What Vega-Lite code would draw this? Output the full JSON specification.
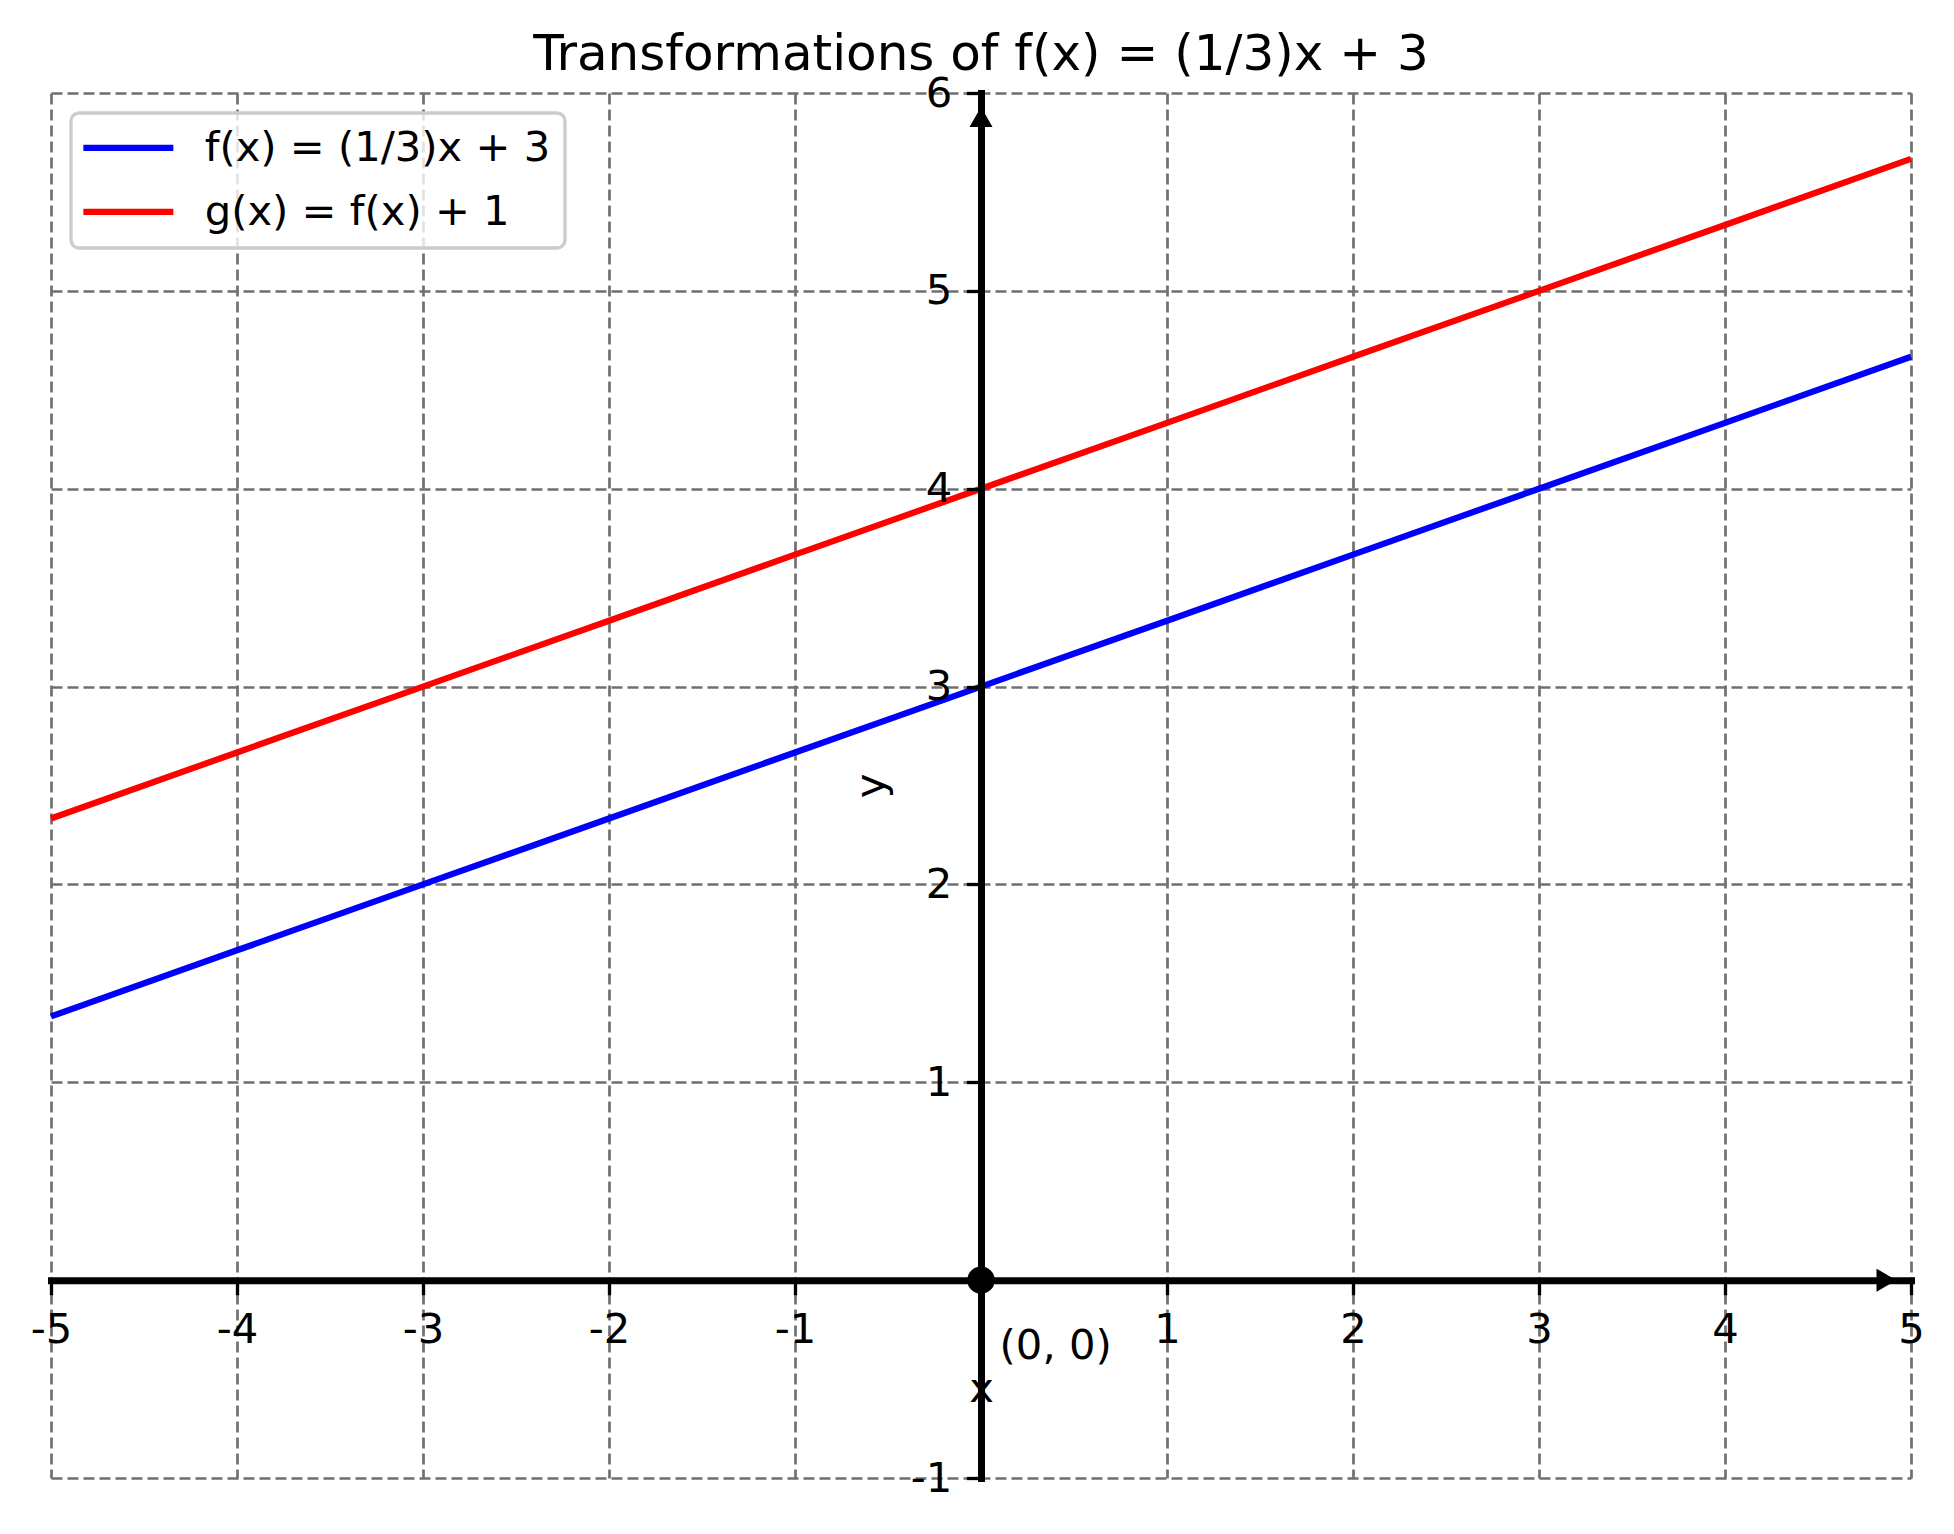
{
  "$schema": "https://vega.github.io/schema/vega-lite/v6.json",
  "width": 1860,
  "height": 1385,
  "autosize": "none",
  "padding": {"left": 51, "top": 93, "right": 43, "bottom": 56},
  "background": "white",
  "title": {
    "text": "Transformations of f(x) = (1/3)x + 3",
    "font": "DejaVu Sans",
    "fontSize": 50,
    "fontWeight": "normal",
    "color": "black",
    "anchor": "middle",
    "frame": "group",
    "baseline": "alphabetic",
    "offset": -46.5
  },
  "datasets": {
    "lines": [
      {"x": -5, "y": 1.333, "series": "f(x) = (1/3)x + 3"},
      {"x": -4, "y": 1.667, "series": "f(x) = (1/3)x + 3"},
      {"x": -3, "y": 2.0, "series": "f(x) = (1/3)x + 3"},
      {"x": -2, "y": 2.333, "series": "f(x) = (1/3)x + 3"},
      {"x": -1, "y": 2.667, "series": "f(x) = (1/3)x + 3"},
      {"x": 0, "y": 3.0, "series": "f(x) = (1/3)x + 3"},
      {"x": 1, "y": 3.333, "series": "f(x) = (1/3)x + 3"},
      {"x": 2, "y": 3.667, "series": "f(x) = (1/3)x + 3"},
      {"x": 3, "y": 4.0, "series": "f(x) = (1/3)x + 3"},
      {"x": 4, "y": 4.333, "series": "f(x) = (1/3)x + 3"},
      {"x": 5, "y": 4.667, "series": "f(x) = (1/3)x + 3"},
      {"x": -5, "y": 2.333, "series": "g(x) = f(x) + 1"},
      {"x": -4, "y": 2.667, "series": "g(x) = f(x) + 1"},
      {"x": -3, "y": 3.0, "series": "g(x) = f(x) + 1"},
      {"x": -2, "y": 3.333, "series": "g(x) = f(x) + 1"},
      {"x": -1, "y": 3.667, "series": "g(x) = f(x) + 1"},
      {"x": 0, "y": 4.0, "series": "g(x) = f(x) + 1"},
      {"x": 1, "y": 4.333, "series": "g(x) = f(x) + 1"},
      {"x": 2, "y": 4.667, "series": "g(x) = f(x) + 1"},
      {"x": 3, "y": 5.0, "series": "g(x) = f(x) + 1"},
      {"x": 4, "y": 5.333, "series": "g(x) = f(x) + 1"},
      {"x": 5, "y": 5.667, "series": "g(x) = f(x) + 1"}
    ],
    "arrows": [
      {"x": 4.868, "y": 0, "shape": "triangle-right"},
      {"x": 0, "y": 5.879, "shape": "triangle-up"}
    ],
    "origin": [{"x": 0, "y": 0, "label": "(0, 0)"}],
    "annot": [{"x": 0.1, "y": -0.4, "label": "(0, 0)"}]
  },
  "resolve": {"axis": {"x": "independent", "y": "independent"}},
  "layer": [
    {
      "data": {"name": "lines"},
      "mark": {"type": "line", "strokeWidth": 6.25},
      "encoding": {
        "x": {
          "field": "x", "type": "quantitative",
          "scale": {"domain": [-5, 5], "nice": false, "zero": false},
          "axis": {
            "orient": "bottom", "values": [-5, -4, -3, -2, -1, 0, 1, 2, 3, 4, 5],
            "grid": true, "gridColor": "#707070", "gridDash": [11, 5], "gridWidth": 2.7, "gridOpacity": 1,
            "domain": false, "ticks": false, "labels": false, "title": null, "zindex": 0
          }
        },
        "y": {
          "field": "y", "type": "quantitative",
          "scale": {"domain": [-1, 6], "nice": false, "zero": false},
          "axis": {
            "orient": "left", "values": [-1, 0, 1, 2, 3, 4, 5, 6],
            "grid": true, "gridColor": "#707070", "gridDash": [11, 5], "gridWidth": 2.7, "gridOpacity": 1,
            "domain": false, "ticks": false, "labels": false, "title": null, "zindex": 0
          }
        },
        "color": {
          "field": "series", "type": "nominal",
          "scale": {"domain": ["f(x) = (1/3)x + 3", "g(x) = f(x) + 1"], "range": ["#0000ff", "#ff0000"]},
          "legend": {
            "orient": "top-left", "offset": 20, "title": null,
            "labelFont": "DejaVu Sans", "labelFontSize": 41.7, "labelColor": "black", "labelLimit": 0,
            "symbolType": "M-2,0H6", "symbolSize": 506, "symbolStrokeWidth": 6.25,
            "labelOffset": 78, "padding": 14, "rowPadding": 21,
            "strokeColor": "#cccccc", "cornerRadius": 8,
            "fillColor": "rgba(255,255,255,0.8)",
            "encode": {"legend": {"update": {"strokeWidth": {"value": 3.3}}}}
          }
        }
      }
    },
    {
      "data": {"name": "arrows"},
      "mark": {"type": "point", "filled": true, "color": "black", "opacity": 1, "size": 529},
      "encoding": {
        "x": {
          "field": "x", "type": "quantitative",
          "axis": {
            "orient": "bottom", "offset": -197.857, "values": [-5, -4, -3, -2, -1, 1, 2, 3, 4, 5],
            "labelExpr": "'' + datum.value",
            "grid": false, "domain": true, "domainColor": "black", "domainWidth": 7, "domainCap": "square",
            "ticks": true, "tickColor": "black", "tickWidth": 3.3, "tickSize": 14.6,
            "labelPadding": 14.6, "labelFont": "DejaVu Sans", "labelFontSize": 41.7, "labelColor": "black",
            "labelFlush": false, "labelOverlap": false, "labelBound": false,
            "title": "x", "titleFont": "DejaVu Sans", "titleFontSize": 41.7, "titleFontWeight": "normal",
            "titleColor": "black", "titleBaseline": "alphabetic", "titlePadding": 50, "zindex": 1
          }
        },
        "y": {
          "field": "y", "type": "quantitative",
          "axis": {
            "orient": "left", "offset": -930, "values": [-1, 1, 2, 3, 4, 5, 6],
            "labelExpr": "'' + datum.value",
            "grid": false, "domain": true, "domainColor": "black", "domainWidth": 7, "domainCap": "square",
            "ticks": true, "tickColor": "black", "tickWidth": 3.3, "tickSize": 14.6,
            "labelPadding": 14.6, "labelFont": "DejaVu Sans", "labelFontSize": 41.7, "labelColor": "black",
            "labelFlush": false, "labelOverlap": false, "labelBound": false,
            "title": "y", "titleFont": "DejaVu Sans", "titleFontSize": 41.7, "titleFontWeight": "normal",
            "titleColor": "black", "titleBaseline": "alphabetic", "titlePadding": 27, "zindex": 1
          }
        },
        "shape": {"field": "shape", "type": "nominal", "scale": null, "legend": null}
      }
    },
    {
      "data": {"name": "origin"},
      "mark": {"type": "point", "filled": true, "color": "black", "opacity": 1, "size": 750, "shape": "circle"},
      "encoding": {
        "x": {"field": "x", "type": "quantitative", "axis": null},
        "y": {"field": "y", "type": "quantitative", "axis": null}
      }
    },
    {
      "data": {"name": "annot"},
      "mark": {"type": "text", "align": "left", "baseline": "alphabetic", "font": "DejaVu Sans", "fontSize": 41.7, "color": "black"},
      "encoding": {
        "x": {"field": "x", "type": "quantitative", "axis": null},
        "y": {"field": "y", "type": "quantitative", "axis": null},
        "text": {"field": "label"}
      }
    }
  ],
  "config": {
    "view": {"stroke": null},
    "font": "DejaVu Sans"
  }
}
